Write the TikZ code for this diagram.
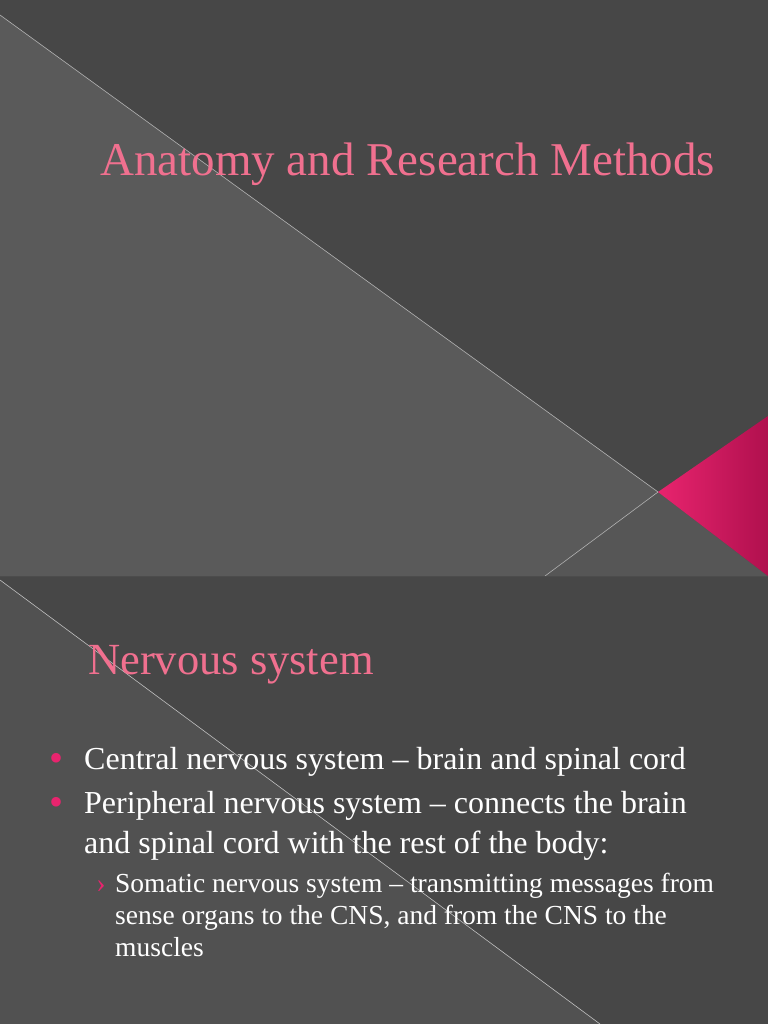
\documentclass[tikz,border=0pt]{standalone}
\usepackage{fontspec}
\setmainfont{Liberation Serif}
\definecolor{bgA}{HTML}{474747}
\definecolor{bgB}{HTML}{5A5A5A}
\definecolor{pinkT}{HTML}{F0708F}
\definecolor{pinkB}{HTML}{E8246E}
\definecolor{pinkD}{HTML}{B0104E}
\definecolor{txt}{HTML}{FFFFFF}
\tikzset{ttl/.style={anchor=base west,text=pinkT,inner sep=0},
 body/.style={anchor=base west,text=txt,inner sep=0,font=\fontsize{32}{36}\selectfont},
 sub/.style={anchor=base west,text=txt,inner sep=0,font=\fontsize{27.5}{30}\selectfont},
 bul/.style={anchor=base,text=pinkB,inner sep=0}}
\begin{document}
\begin{tikzpicture}[x=1pt,y=-1pt]
\useasboundingbox (0,0) rectangle (768,1024);
% slide 1
\fill[bgA] (0,0) rectangle (768,576);
\fill[bgB] (0,15) -- (658,492) -- (545,576) -- (0,576) -- cycle;
\fill[bgB!80!bgA] (658,492) -- (768,576) -- (545,576) -- cycle;
\draw[gray!60,line width=0.6] (0,15) -- (658,492) -- (545,576);
\shade[left color=pinkB, right color=pinkD] (658,492) -- (768,416) -- (768,576) -- cycle;
\node[ttl,font=\fontsize{47}{52}\selectfont] (t1) at (100,176) {Anatomy and Research Methods};
% slide 2
\fill[bgA] (0,576) rectangle (768,1024);
\fill[bgB!50!bgA] (0,580) -- (600,1024) -- (0,1024) -- cycle;
\draw[gray!50,line width=0.6] (0,580) -- (600,1024);
\draw[black!70,line width=1] (0,576) -- (768,576);
\node[ttl,font=\fontsize{44.5}{48}\selectfont] (t2) at (88,674) {Nervous system};
\node[bul,font=\fontsize{40}{40}\selectfont] (b1) at (57,771) {•};
\node[body] (l1) at (84,769) {Central nervous system – brain and spinal cord};
\node[bul,font=\fontsize{40}{40}\selectfont] (b2) at (57,815) {•};
\node[body] (l2) at (84,813) {Peripheral nervous system – connects the brain};
\node[body] (l2b) at (84,853) {and spinal cord with the rest of the body:};
\node[bul,font=\fontsize{28}{28}\selectfont] (b3) at (101,892) {›};
\node[sub] (l3) at (115,892) {Somatic nervous system – transmitting messages from};
\node[sub] (l3b) at (115,924) {sense organs to the CNS, and from the CNS to the};
\node[sub] (l3c) at (115,956) {muscles};
\end{tikzpicture}
\end{document}
